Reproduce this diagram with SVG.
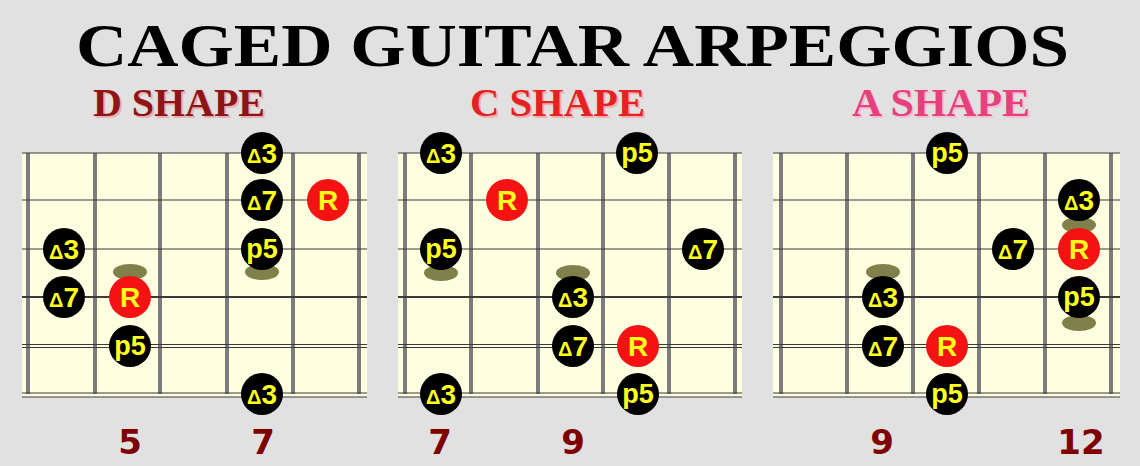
<svg xmlns="http://www.w3.org/2000/svg" width="1140" height="466" viewBox="0 0 1140 466">
<style>
.board{fill:#FEFEE0}
.fret{stroke:#7C7C7C;stroke-width:4}
.str{stroke:#3A3A3A;stroke-width:1.2}
.str4{stroke:#3A3A3A;stroke-width:2}
.blk{fill:#000}
.red{fill:#F41212}
.olive{fill:#80804A}
.lbl{font-family:"Liberation Sans",Arial,sans-serif;font-weight:bold;fill:#FFFF1E;text-anchor:middle}
.d{font-size:20px}
.n{font-size:28px}
.p{font-size:27px}
.title{font-family:"Liberation Serif","Times New Roman",serif;font-weight:bold;font-size:62px;fill:#000}
.sub{font-family:"Liberation Serif","Times New Roman",serif;font-weight:bold;font-size:41px}
.num{font-family:"DejaVu Sans","Liberation Sans",sans-serif;font-weight:bold;font-size:34px;fill:#7E0000;text-anchor:middle}
</style>
<rect width="1140" height="466" fill="#E1E1E1"/>
<g id="title">
<text class="title" x="76" y="66" textLength="993" lengthAdjust="spacingAndGlyphs">CAGED GUITAR ARPEGGIOS</text>
</g>
<g id="subtitles">
<text class="sub" x="95" y="118" textLength="172" lengthAdjust="spacingAndGlyphs" fill="#E8B0B0">D SHAPE</text>
<text class="sub" x="93" y="116" textLength="172" lengthAdjust="spacingAndGlyphs" fill="#8E1418">D SHAPE</text>
<text class="sub" x="472" y="118" textLength="175" lengthAdjust="spacingAndGlyphs" fill="#F4B0B0">C SHAPE</text>
<text class="sub" x="470" y="116" textLength="175" lengthAdjust="spacingAndGlyphs" fill="#E42224">C SHAPE</text>
<text class="sub" x="854" y="118" textLength="178" lengthAdjust="spacingAndGlyphs" fill="#F6C0D4">A SHAPE</text>
<text class="sub" x="852" y="116" textLength="178" lengthAdjust="spacingAndGlyphs" fill="#E6417C">A SHAPE</text>
</g>
<g id="board-d">
<rect class="board" x="22" y="153" width="345" height="244"/>
<line class="fret" x1="28" y1="153" x2="28" y2="394"/>
<line class="fret" x1="95" y1="153" x2="95" y2="394"/>
<line class="fret" x1="160" y1="153" x2="160" y2="394"/>
<line class="fret" x1="227" y1="153" x2="227" y2="394"/>
<line class="fret" x1="293" y1="153" x2="293" y2="394"/>
<line class="fret" x1="359" y1="153" x2="359" y2="394"/>
<line class="str" x1="22" y1="153" x2="367" y2="153"/>
<line class="str" x1="22" y1="200" x2="367" y2="200"/>
<line class="str" x1="22" y1="249" x2="367" y2="249"/>
<line class="str4" x1="22" y1="297" x2="367" y2="297"/>
<line class="str" x1="22" y1="344.5" x2="367" y2="344.5"/>
<line class="str" x1="22" y1="347.5" x2="367" y2="347.5"/>
<line class="str" x1="22" y1="393" x2="367" y2="393"/>
<line class="str" x1="22" y1="397" x2="367" y2="397"/>
</g>
<g id="board-c">
<rect class="board" x="398" y="153" width="344" height="244"/>
<line class="fret" x1="405" y1="153" x2="405" y2="394"/>
<line class="fret" x1="471" y1="153" x2="471" y2="394"/>
<line class="fret" x1="538" y1="153" x2="538" y2="394"/>
<line class="fret" x1="603" y1="153" x2="603" y2="394"/>
<line class="fret" x1="669" y1="153" x2="669" y2="394"/>
<line class="fret" x1="735" y1="153" x2="735" y2="394"/>
<line class="str" x1="398" y1="153" x2="742" y2="153"/>
<line class="str" x1="398" y1="200" x2="742" y2="200"/>
<line class="str" x1="398" y1="249" x2="742" y2="249"/>
<line class="str4" x1="398" y1="297" x2="742" y2="297"/>
<line class="str" x1="398" y1="344.5" x2="742" y2="344.5"/>
<line class="str" x1="398" y1="347.5" x2="742" y2="347.5"/>
<line class="str" x1="398" y1="393" x2="742" y2="393"/>
<line class="str" x1="398" y1="397" x2="742" y2="397"/>
</g>
<g id="board-a">
<rect class="board" x="773" y="153" width="347" height="244"/>
<line class="fret" x1="781" y1="153" x2="781" y2="394"/>
<line class="fret" x1="847" y1="153" x2="847" y2="394"/>
<line class="fret" x1="913" y1="153" x2="913" y2="394"/>
<line class="fret" x1="979" y1="153" x2="979" y2="394"/>
<line class="fret" x1="1045" y1="153" x2="1045" y2="394"/>
<line class="fret" x1="1111" y1="153" x2="1111" y2="394"/>
<line class="str" x1="773" y1="153" x2="1120" y2="153"/>
<line class="str" x1="773" y1="200" x2="1120" y2="200"/>
<line class="str" x1="773" y1="249" x2="1120" y2="249"/>
<line class="str4" x1="773" y1="297" x2="1120" y2="297"/>
<line class="str" x1="773" y1="344.5" x2="1120" y2="344.5"/>
<line class="str" x1="773" y1="347.5" x2="1120" y2="347.5"/>
<line class="str" x1="773" y1="393" x2="1120" y2="393"/>
<line class="str" x1="773" y1="397" x2="1120" y2="397"/>
</g>
<g id="markers">
<ellipse class="olive" cx="262" cy="272" rx="17" ry="8"/>
<ellipse class="olive" cx="130" cy="272" rx="17" ry="8"/>
<ellipse class="olive" cx="441" cy="273" rx="17" ry="8"/>
<ellipse class="olive" cx="573" cy="273" rx="17" ry="8"/>
<ellipse class="olive" cx="1079" cy="225" rx="17" ry="8"/>
<ellipse class="olive" cx="883" cy="272" rx="17" ry="8"/>
<ellipse class="olive" cx="1079" cy="323" rx="17" ry="8"/>
</g>
<g id="d-n1"><circle class="blk" cx="262" cy="153" r="21"/><text class="lbl" x="262" y="163"><tspan class="d">Δ</tspan><tspan class="n">3</tspan></text></g>
<g id="d-n2"><circle class="blk" cx="262" cy="200" r="21"/><text class="lbl" x="262" y="210"><tspan class="d">Δ</tspan><tspan class="n">7</tspan></text></g>
<g id="d-n3"><circle class="red" cx="328" cy="200" r="21"/><text class="lbl n" x="328" y="210">R</text></g>
<g id="d-n4"><circle class="blk" cx="64" cy="249" r="21"/><text class="lbl" x="64" y="259"><tspan class="d">Δ</tspan><tspan class="n">3</tspan></text></g>
<g id="d-n5"><circle class="blk" cx="262" cy="249" r="21"/><text class="lbl p" x="262" y="258">p5</text></g>
<g id="d-n6"><circle class="blk" cx="64" cy="297" r="21"/><text class="lbl" x="64" y="307"><tspan class="d">Δ</tspan><tspan class="n">7</tspan></text></g>
<g id="d-n7"><circle class="red" cx="130" cy="297" r="21"/><text class="lbl n" x="130" y="307">R</text></g>
<g id="d-n8"><circle class="blk" cx="130" cy="346" r="21"/><text class="lbl p" x="130" y="355">p5</text></g>
<g id="d-n9"><circle class="blk" cx="262" cy="394" r="21"/><text class="lbl" x="262" y="404"><tspan class="d">Δ</tspan><tspan class="n">3</tspan></text></g>
<g id="c-n1"><circle class="blk" cx="441" cy="153" r="21"/><text class="lbl" x="441" y="163"><tspan class="d">Δ</tspan><tspan class="n">3</tspan></text></g>
<g id="c-n2"><circle class="blk" cx="637" cy="153" r="21"/><text class="lbl p" x="637" y="162">p5</text></g>
<g id="c-n3"><circle class="red" cx="507" cy="200" r="21"/><text class="lbl n" x="507" y="210">R</text></g>
<g id="c-n4"><circle class="blk" cx="441" cy="249" r="21"/><text class="lbl p" x="441" y="258">p5</text></g>
<g id="c-n5"><circle class="blk" cx="703" cy="249" r="21"/><text class="lbl" x="703" y="259"><tspan class="d">Δ</tspan><tspan class="n">7</tspan></text></g>
<g id="c-n6"><circle class="blk" cx="573" cy="297" r="21"/><text class="lbl" x="573" y="307"><tspan class="d">Δ</tspan><tspan class="n">3</tspan></text></g>
<g id="c-n7"><circle class="blk" cx="573" cy="346" r="21"/><text class="lbl" x="573" y="356"><tspan class="d">Δ</tspan><tspan class="n">7</tspan></text></g>
<g id="c-n8"><circle class="red" cx="638" cy="346" r="21"/><text class="lbl n" x="638" y="356">R</text></g>
<g id="c-n9"><circle class="blk" cx="441" cy="394" r="21"/><text class="lbl" x="441" y="404"><tspan class="d">Δ</tspan><tspan class="n">3</tspan></text></g>
<g id="c-n10"><circle class="blk" cx="638" cy="394" r="21"/><text class="lbl p" x="638" y="403">p5</text></g>
<g id="a-n1"><circle class="blk" cx="947" cy="153" r="21"/><text class="lbl p" x="947" y="162">p5</text></g>
<g id="a-n2"><circle class="blk" cx="1079" cy="200" r="21"/><text class="lbl" x="1079" y="210"><tspan class="d">Δ</tspan><tspan class="n">3</tspan></text></g>
<g id="a-n3"><circle class="blk" cx="1013" cy="249" r="21"/><text class="lbl" x="1013" y="259"><tspan class="d">Δ</tspan><tspan class="n">7</tspan></text></g>
<g id="a-n4"><circle class="red" cx="1079" cy="249" r="21"/><text class="lbl n" x="1079" y="259">R</text></g>
<g id="a-n5"><circle class="blk" cx="883" cy="297" r="21"/><text class="lbl" x="883" y="307"><tspan class="d">Δ</tspan><tspan class="n">3</tspan></text></g>
<g id="a-n6"><circle class="blk" cx="1079" cy="297" r="21"/><text class="lbl p" x="1079" y="306">p5</text></g>
<g id="a-n7"><circle class="blk" cx="883" cy="346" r="21"/><text class="lbl" x="883" y="356"><tspan class="d">Δ</tspan><tspan class="n">7</tspan></text></g>
<g id="a-n8"><circle class="red" cx="947" cy="346" r="21"/><text class="lbl n" x="947" y="356">R</text></g>
<g id="a-n9"><circle class="blk" cx="947" cy="394" r="21"/><text class="lbl p" x="947" y="403">p5</text></g>
<g id="fret-numbers">
<text class="num" x="130" y="454">5</text>
<text class="num" x="263" y="454">7</text>
<text class="num" x="440" y="454">7</text>
<text class="num" x="573" y="454">9</text>
<text class="num" x="882" y="454">9</text>
<text class="num" x="1081" y="454">12</text>
</g>
<g id="connectors"/>
</svg>
